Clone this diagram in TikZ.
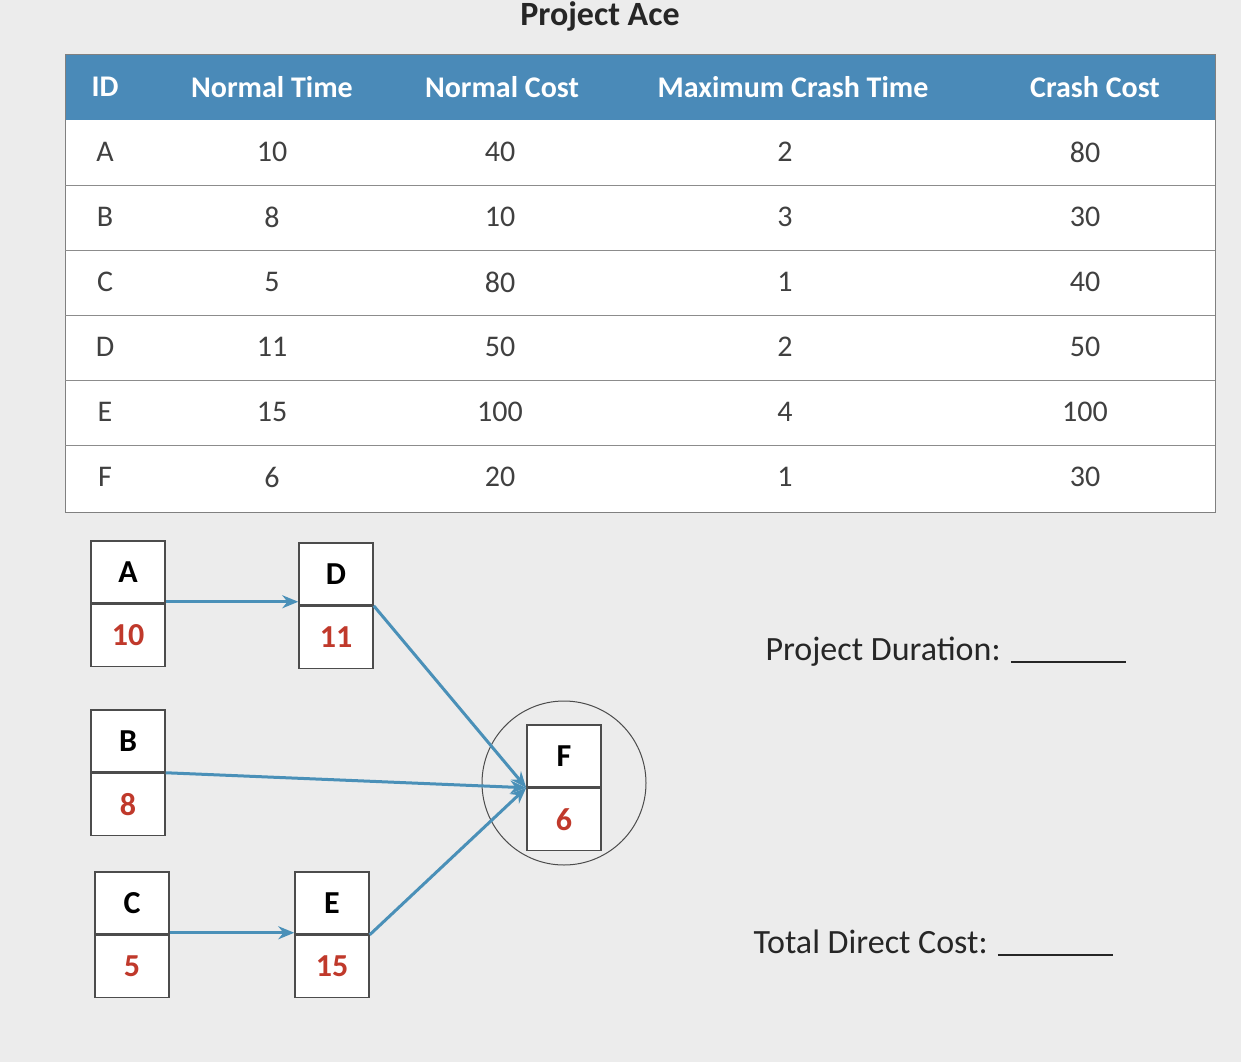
\documentclass[tikz,border=0pt]{standalone}
\usepackage{fontspec}
\setmainfont{Carlito}
\usetikzlibrary{arrows.meta}
\definecolor{hdr}{HTML}{4A8AB8}
\definecolor{arr}{HTML}{4A90B8}
\definecolor{num}{HTML}{C0392B}
\definecolor{bg}{HTML}{ECECEC}
\tikzset{
  cell/.style={font=\fontsize{30}{36}\selectfont, text=black!75},
  hcell/.style={font=\fontsize{30}{36}\selectfont\bfseries, text=white},
  box/.style={draw=black!70, line width=1.5pt, minimum width=74pt, minimum height=62pt, inner sep=0pt, fill=white, font=\fontsize{32}{38}\selectfont\bfseries},
  conn/.style={draw=arr, line width=3pt, -{Stealth[length=16pt,width=13pt]}},
  lbl/.style={font=\fontsize{34}{40}\selectfont, text=black!85, anchor=west}
}
\begin{document}
\begin{tikzpicture}[x=1pt,y=-1pt]
\useasboundingbox (0,0) rectangle (1241,1062);
\fill[bg] (0,0) rectangle (1241,1062);
\node[font=\fontsize{34}{40}\selectfont\bfseries, text=black!85] (title) at (600,16) {Project Ace};
% table
\fill[white] (65,55) rectangle (1215,512);
\fill[hdr] (65,55) rectangle (1215,120);
\draw[black!50, line width=1pt] (65,55) rectangle (1215,512);
\foreach \y in {185,250,315,380,445} \draw[black!45, line width=1pt] (65,\y) -- (1215,\y);
\node[hcell] (h1) at (105,87) {ID};
\node[hcell] (h2) at (272,87) {Normal Time};
\node[hcell] (h3) at (502,87) {Normal Cost};
\node[hcell] (h4) at (793,87) {Maximum Crash Time};
\node[hcell] (h5) at (1095,87) {Crash Cost};
\foreach \id/\nt/\nc/\mc/\cc [count=\i] in {A/10/40/2/80,B/8/10/3/30,C/5/80/1/40,D/11/50/2/50,E/15/100/4/100,F/6/20/1/30}{
  \pgfmathsetmacro{\yy}{87+65*\i}
  \node[cell] (id\i) at (105,\yy) {\id};
  \node[cell] (nt\i) at (272,\yy) {\nt};
  \node[cell] (nc\i) at (500,\yy) {\nc};
  \node[cell] (mc\i) at (785,\yy) {\mc};
  \node[cell] (cc\i) at (1085,\yy) {\cc};
}
% network
\foreach \n/\x/\y/\t/\v in {A/128/572/A/10,D/336/574/D/11,B/128/741/B/8,F/564/756/F/6,C/132/903/C/5,E/332/903/E/15}{
  \node[box] (\n t) at (\x,\y) {\t};
  \node[box, text=num, anchor=north] (\n b) at (\n t.south) {\v};
}
\draw[black!70, line width=1pt] (564,783) circle (82);
\draw[conn] ([yshift=2pt]Ab.north east) -- ([yshift=2pt]Ab.north east -| Db.west);
\draw[conn] ([yshift=2pt]Cb.north east) -- ([yshift=2pt]Cb.north east -| Eb.west);
\draw[conn] (Db.north east) -- (Ft.south west);
\draw[conn] (Bb.north east) -- (Ft.south west);
\draw[conn] (Eb.north east) -- (Ft.south west);
\node[lbl] (pd) at (762,652) {Project Duration: \rule[-2pt]{115pt}{1.5pt}};
\node[lbl] (tc) at (750,943) {Total Direct Cost: \rule[-2pt]{115pt}{1.5pt}};
\end{tikzpicture}
\end{document}
